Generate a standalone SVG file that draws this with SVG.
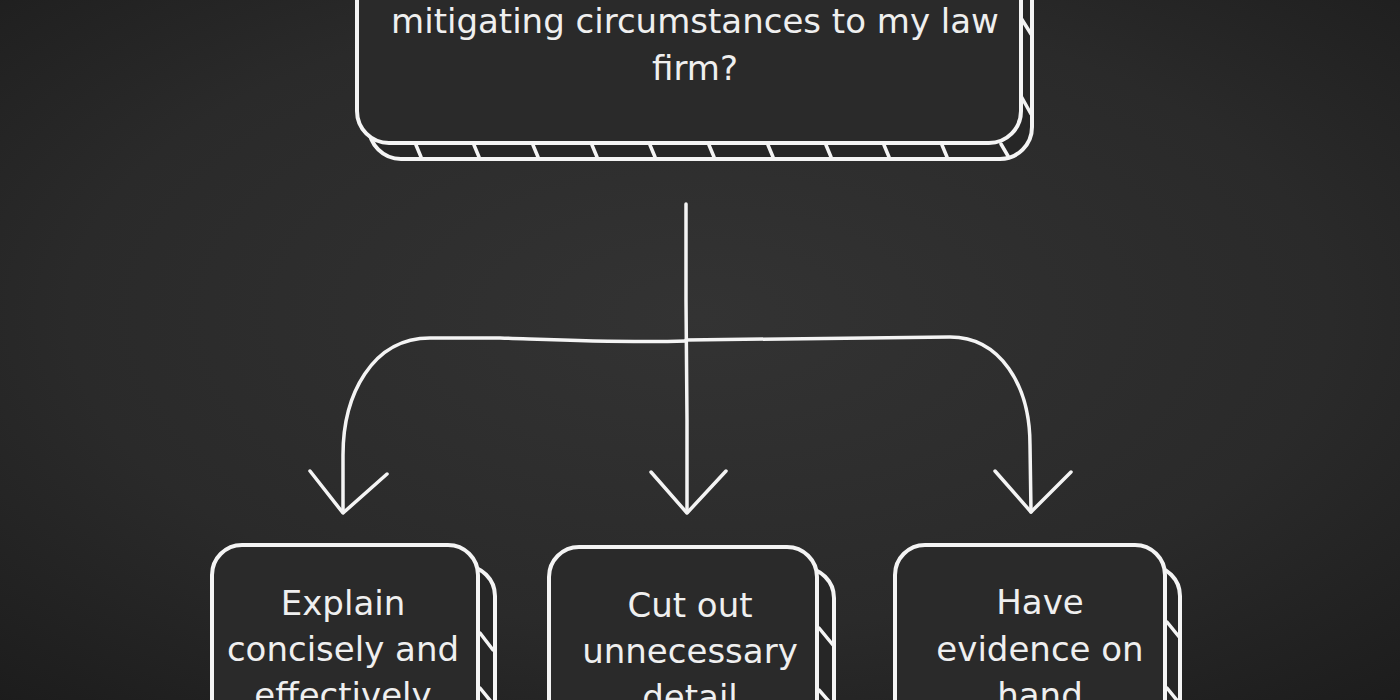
<svg xmlns="http://www.w3.org/2000/svg" width="1400" height="700" viewBox="0 0 1400 700">
  <defs>
    <radialGradient id="bg" cx="50%" cy="45%" r="75%">
      <stop offset="0" stop-color="#333333"/>
      <stop offset="0.6" stop-color="#2a2a2a"/>
      <stop offset="1" stop-color="#1c1c1c"/>
    </radialGradient>
    <style>
      .box { fill: #2a2a2a; stroke: #f4f4f4; stroke-width: 4; }
      .shadow { fill: #262626; stroke: #f4f4f4; stroke-width: 4; }
      .hatch { fill: none; stroke: #f4f4f4; stroke-width: 3.5; stroke-linecap: round; }
      .conn { fill: none; stroke: #f4f4f4; stroke-width: 3.5; stroke-linecap: round; stroke-linejoin: round; }
      .lbl { font-family: "DejaVu Sans", "Open Sans", sans-serif; font-size: 34px; fill: #efefef; text-anchor: middle; }
    </style>
  </defs>
  <rect width="1400" height="700" fill="url(#bg)"/>

  <g id="node-top">
    <rect class="shadow" x="369" y="-40" width="663" height="199" rx="32"/>
    <rect class="box" x="357" y="-40" width="664" height="183" rx="32"/>
    <path class="hatch" d="M416,145 L421,157 M474,145 L479,157 M533,145 L538,157 M592,145 L597,157 M650,145 L655,157 M709,145 L714,157 M768,145 L773,157 M826,145 L831,157 M884,145 L889,157 M942,145 L947,157 M1001,144 L1008,156 M1021,18 L1031,34 M1021,96 L1031,114"/>
    <text class="lbl" x="695" y="33">mitigating circumstances to my law</text>
    <text class="lbl" x="695" y="80">firm?</text>
  </g>

  <g id="node-explain">
    <rect class="shadow" x="229" y="566" width="266" height="200" rx="30"/>
    <rect class="box" x="212" y="545" width="266" height="200" rx="30"/>
    <path class="hatch" d="M480,633 L493,650 M480,688 L493,704"/>
    <text class="lbl" x="343" y="615">Explain</text>
    <text class="lbl" x="343" y="661">concisely and</text>
    <text class="lbl" x="343" y="707">effectively</text>
  </g>

  <g id="node-cut">
    <rect class="shadow" x="566" y="568" width="268" height="200" rx="30"/>
    <rect class="box" x="549" y="547" width="268" height="200" rx="30"/>
    <path class="hatch" d="M819,628 L833,645 M819,690 L833,706"/>
    <text class="lbl" x="690" y="617">Cut out</text>
    <text class="lbl" x="690" y="663">unnecessary</text>
    <text class="lbl" x="690" y="709">detail</text>
  </g>

  <g id="node-evidence">
    <rect class="shadow" x="912" y="566" width="268" height="200" rx="30"/>
    <rect class="box" x="895" y="545" width="270" height="200" rx="30"/>
    <path class="hatch" d="M1167,622 L1180,638 M1167,688 L1180,704"/>
    <text class="lbl" x="1040" y="614">Have</text>
    <text class="lbl" x="1040" y="661">evidence on</text>
    <text class="lbl" x="1040" y="707">hand</text>
  </g>

  <g id="connectors">
    <path class="conn" d="M686,204 L686,300 L687,420 L687,512"/>
    <path class="conn" d="M651,472 L687,513 L726,471"/>
    <path class="conn" d="M686,341 C620,343 560,340 500,338 L430,338 C372,338 343,395 343,455 L343,512"/>
    <path class="conn" d="M310,471 L343,513 L387,474"/>
    <path class="conn" d="M686,340 L950,337 C1000,337 1030,385 1030,445 L1031,512"/>
    <path class="conn" d="M995,471 L1031,512 L1071,472"/>
  </g>
</svg>
